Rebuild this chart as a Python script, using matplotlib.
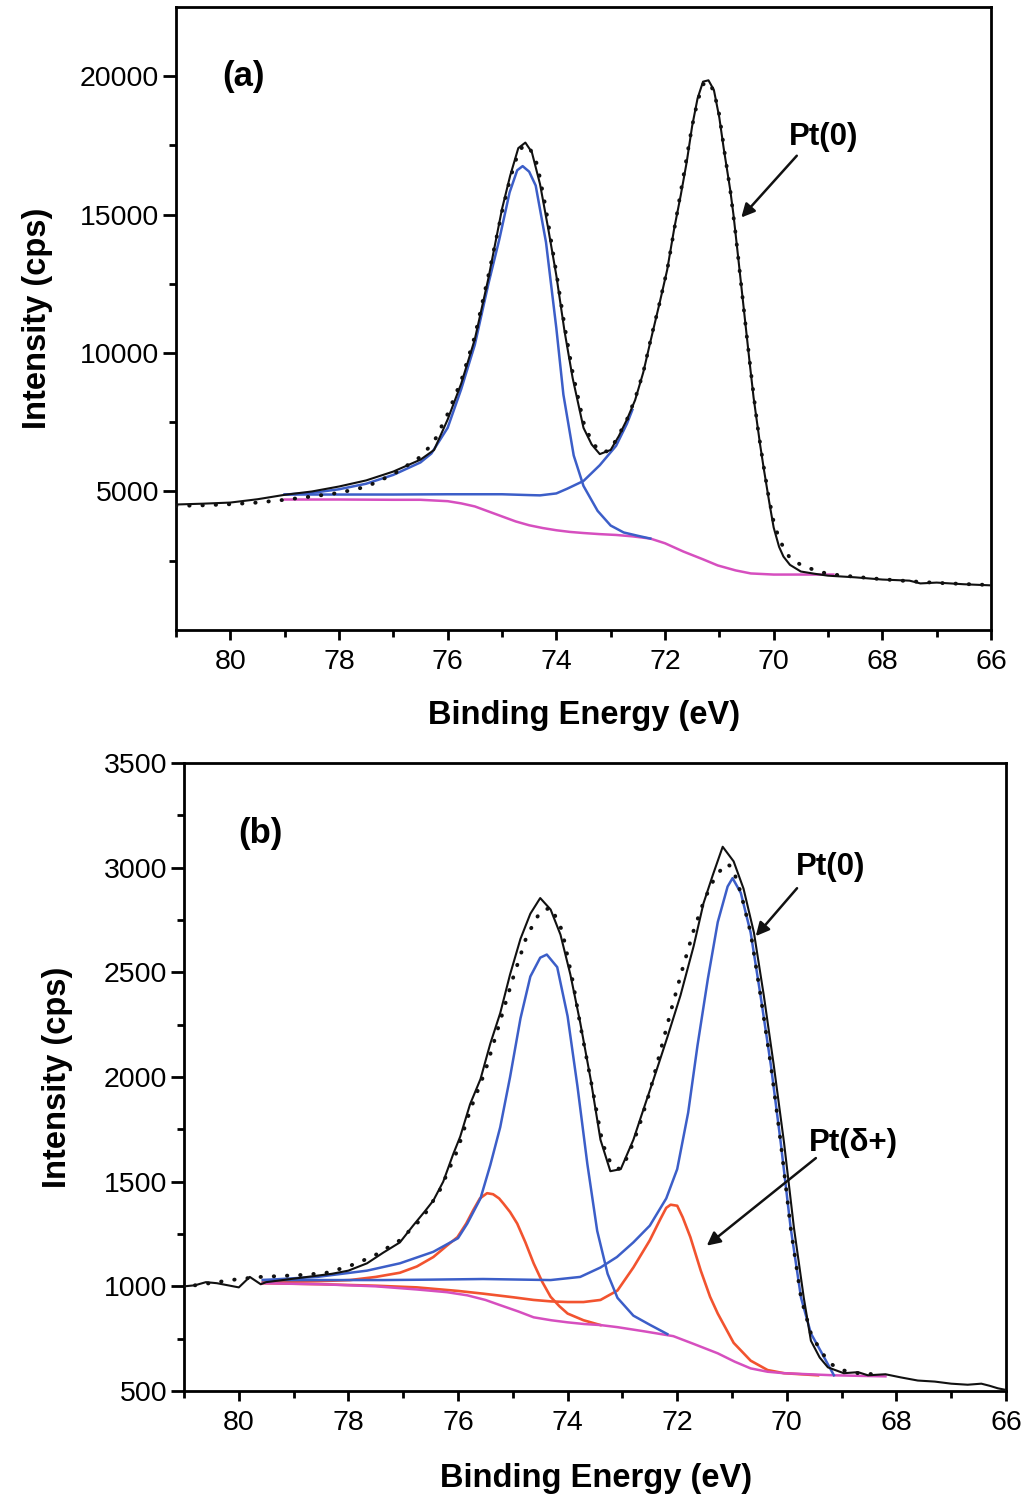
import matplotlib
matplotlib.use('Agg')
import matplotlib.pyplot as plt
from matplotlib.ticker import MultipleLocator, FixedLocator

plt.rcParams['font.family'] = ['Liberation Sans', 'DejaVu Sans']

# ---------------- panel (a) data ----------------
top_meas_x = [81.0, 80.5, 80.0, 79.5, 79.0, 78.5, 78.0, 77.5, 77.0, 76.5, 76.25, 76.0, 75.75, 75.5, 75.25,
              75.0, 74.85, 74.7, 74.57, 74.45, 74.3, 74.15, 74.0, 73.85, 73.7, 73.5, 73.35, 73.2, 73.0, 72.85,
              72.7, 72.55, 72.4, 72.27, 72.1, 71.96, 71.83, 71.71, 71.6, 71.5, 71.4, 71.3, 71.2, 71.1, 71.0,
              70.92, 70.8, 70.74, 70.65, 70.55, 70.45, 70.37, 70.25, 70.18, 70.08, 70.0, 69.9, 69.82, 69.7, 69.5,
              69.25, 69.0, 68.5, 68.0, 67.5, 67.3, 67.0, 66.5, 66.0]
top_meas_y = [4530, 4560, 4600, 4720, 4880, 5000, 5180, 5400, 5720, 6150, 6500, 7600, 8900, 10500, 12700,
              15200, 16400, 17400, 17600, 17250, 16100, 14500, 12800, 10800, 9100, 7300, 6700, 6350, 6500, 7000,
              7600, 8300, 9300, 10400, 11800, 13000, 14500, 15700, 16900, 18200, 19200, 19800, 19850, 19500, 18500,
              17400, 15900, 15000, 13400, 11600, 9800, 8400, 6700, 5800, 4600, 3700, 3000, 2650, 2350, 2110,
              2030, 1960, 1900, 1820, 1780, 1680, 1710, 1650, 1610]

top_fit_x = [81.0, 80.5, 80.0, 79.5, 79.0, 78.5, 78.0, 77.5, 77.0, 76.5, 76.25, 76.0, 75.75, 75.5, 75.25,
             75.0, 74.85, 74.7, 74.6, 74.5, 74.35, 74.2, 74.0, 73.85, 73.7, 73.5, 73.35, 73.2, 73.05, 72.9,
             72.7, 72.55, 72.4, 72.25, 72.1, 71.95, 71.8, 71.65, 71.5, 71.4, 71.3, 71.2, 71.1, 71.0, 70.9,
             70.8, 70.7, 70.6, 70.5, 70.4, 70.3, 70.2, 70.1, 70.0, 69.9, 69.8, 69.7, 69.5, 69.3, 69.0,
             68.5, 68.0, 67.5, 67.0, 66.5, 66.0]
top_fit_y = [4480, 4500, 4540, 4600, 4700, 4820, 4950, 5170, 5620, 6250, 6800, 7800, 9000, 10600, 12800,
             15100, 16300, 17250, 17500, 17450, 16800, 15300, 12900, 11000, 9300, 7500, 6800, 6450, 6450, 6850,
             7600, 8350, 9300, 10600, 11800, 13100, 14800, 16500, 18200, 19100, 19700, 19800, 19450, 18600, 17200,
             15900, 14300, 12500, 10700, 9000, 7400, 6100, 4900, 3900, 3300, 2900, 2600, 2350, 2200, 2020,
             1920, 1830, 1760, 1700, 1660, 1620]

top_p1_x = [79.0, 78.5, 78.0, 77.5, 77.0, 76.5, 76.3, 76.0, 75.75, 75.5, 75.25, 75.05, 74.86, 74.72, 74.62,
            74.5, 74.38, 74.19, 74.0, 73.87, 73.68, 73.5, 73.24, 73.0, 72.76, 72.5, 72.27]
top_p1_y = [4890, 4950, 5080, 5280, 5600, 6050, 6370, 7300, 8700, 10300, 12500, 14100, 15800, 16600, 16750,
            16550, 16050, 14000, 10900, 8500, 6300, 5200, 4300, 3770, 3520, 3400, 3300]

top_p2_x = [79.0, 78.0, 77.0, 76.0, 75.0, 74.5, 74.3, 74.0, 73.8, 73.5, 73.2, 72.9, 72.7, 72.6]
top_p2_y = [4890, 4890, 4890, 4900, 4900, 4870, 4860, 4930, 5100, 5380, 5950, 6650, 7450, 7950]

top_bg_x = [79.0, 78.0, 77.0, 76.5, 76.0, 75.75, 75.5, 75.25, 75.0, 74.75, 74.5, 74.25, 74.0, 73.75,
            73.5, 73.2, 72.9, 72.6, 72.27, 72.0, 71.66, 71.3, 71.03, 70.7, 70.42, 70.0, 69.5, 68.9]
top_bg_y = [4710, 4710, 4700, 4700, 4650, 4570, 4460, 4280, 4100, 3920, 3780, 3680, 3600, 3540,
            3500, 3460, 3430, 3380, 3300, 3130, 2830, 2550, 2330, 2150, 2040, 2000, 2000, 2000]

# ---------------- panel (b) data ----------------
bot_meas_x = [81.0, 80.8, 80.6, 80.4, 80.2, 80.0, 79.8, 79.6, 79.5, 79.2, 78.9, 78.6, 78.3, 78.0, 77.66,
              77.37, 77.06, 76.82, 76.6, 76.45, 76.27, 76.09, 75.96, 75.78, 75.59, 75.41, 75.23, 75.05, 74.86,
              74.68, 74.5, 74.31, 74.13, 73.95, 73.77, 73.58, 73.4, 73.22, 73.03, 72.8, 72.61, 72.43, 72.18,
              71.94, 71.7, 71.52, 71.35, 71.17, 70.97, 70.79, 70.6, 70.42, 70.24, 70.05, 69.87, 69.69, 69.56,
              69.4, 69.25, 68.96, 68.7, 68.52, 68.2, 67.92, 67.61, 67.3, 67.0, 66.7, 66.45, 66.3, 66.15, 66.0]
bot_meas_y = [1000, 1005, 1020, 1015, 1005, 995, 1045, 1010, 1020, 1030, 1040, 1050, 1060, 1075, 1110,
              1160, 1210, 1290, 1360, 1410, 1500, 1630, 1715, 1870, 1990, 2160, 2305, 2490, 2660,
              2780, 2855, 2800, 2680, 2490, 2260, 1990, 1700, 1550, 1560, 1700, 1850, 1990, 2190,
              2390, 2625, 2830, 2965, 3100, 3030, 2900, 2690, 2390, 2060, 1685, 1280, 945, 740,
              660, 613, 585, 590, 575, 580, 565, 550, 545, 535, 530, 535, 525, 513, 505]

bot_fit_x = [80.8, 80.4, 80.0, 79.6, 79.2, 78.8, 78.4, 78.0, 77.55, 77.06, 76.64, 76.33, 76.01, 75.78, 75.5,
             75.25, 75.0, 74.75, 74.5, 74.3, 74.1, 73.9, 73.77, 73.53, 73.36, 73.2, 73.05, 72.9, 72.7, 72.5,
             72.3, 72.1, 71.9, 71.7, 71.5, 71.3, 71.1, 70.99, 70.84, 70.66, 70.48, 70.29, 70.11, 69.93, 69.74,
             69.56, 69.38, 69.2, 69.0, 68.7, 68.4]
bot_fit_y = [1005, 1020, 1035, 1045, 1050, 1055, 1065, 1095, 1143, 1220, 1330, 1460, 1650, 1840, 2030,
             2250, 2470, 2670, 2790, 2810, 2700, 2450, 2250, 1920, 1680, 1580, 1560, 1620, 1760, 1930,
             2130, 2330, 2520, 2700, 2850, 2960, 3020, 3000, 2880, 2690, 2390, 2055, 1685, 1280, 945,
             775, 690, 630, 600, 585, 580]

bot_p1_x = [79.56, 78.57, 77.66, 77.06, 76.45, 76.0, 75.83, 75.59, 75.41, 75.23, 75.05, 74.86, 74.68, 74.5,
            74.38, 74.19, 74.0, 73.82, 73.64, 73.46, 73.27, 73.09, 72.8, 72.49, 72.18]
bot_p1_y = [1030, 1045, 1075, 1110, 1165, 1230, 1300, 1420, 1580, 1760, 2000, 2280, 2480, 2570,
            2585, 2525, 2290, 1955, 1585, 1265, 1060, 945, 860, 815, 772]

bot_p2_x = [79.56, 78.5, 77.37, 76.5, 75.54, 74.8, 74.31, 73.77, 73.4, 73.1, 72.8, 72.5, 72.2, 72.0, 71.8,
            71.63, 71.44, 71.26, 71.08, 70.99, 70.84, 70.66, 70.48, 70.29, 70.11, 69.93, 69.74, 69.56, 69.38, 69.14]
bot_p2_y = [1030, 1030, 1030, 1032, 1035, 1032, 1030, 1045, 1090, 1140, 1210, 1290, 1420, 1560, 1830,
            2150, 2470, 2740, 2910, 2950, 2880, 2690, 2390, 2055, 1685, 1280, 945, 775, 690, 575]

bot_d1_x = [79.56, 78.5, 77.97, 77.5, 77.06, 76.75, 76.45, 76.2, 76.01, 75.85, 75.72, 75.6, 75.47, 75.36,
            75.25, 75.17, 75.05, 74.92, 74.77, 74.62, 74.46, 74.31, 74.15, 74.0, 73.71, 73.4]
bot_d1_y = [1020, 1025, 1030, 1045, 1065, 1095, 1140, 1195, 1235, 1300, 1365, 1420, 1445, 1440,
            1420, 1395, 1355, 1300, 1210, 1110, 1020, 950, 905, 870, 838, 815]

bot_d2_x = [79.56, 78.5, 77.5, 76.75, 76.0, 75.54, 75.0, 74.62, 74.3, 74.0, 73.71, 73.4, 73.09, 72.8, 72.5,
            72.31, 72.2, 72.12, 72.0, 71.9, 71.76, 71.57, 71.4, 71.26, 70.97, 70.66, 70.35, 70.05, 69.43]
bot_d2_y = [1015, 1010, 1003, 995, 978, 965, 948, 935, 928, 925, 925, 935, 980, 1090, 1220,
            1320, 1375, 1390, 1385, 1330, 1235, 1075, 950, 870, 730, 645, 600, 585, 575]

bot_bg_x = [79.56, 78.5, 77.5, 76.75, 76.2, 75.83, 75.5, 75.23, 74.9, 74.62, 74.3, 74.0, 73.7, 73.4, 73.09,
            72.6, 72.07, 71.7, 71.26, 70.95, 70.66, 70.35, 70.05, 69.6, 69.14, 68.6, 68.2]
bot_bg_y = [1015, 1010, 1000, 985, 972, 957, 935, 910, 880, 852, 838, 828, 820, 815, 805,
            785, 762, 725, 680, 640, 608, 592, 585, 580, 575, 572, 570]

x_ticks = [80, 78, 76, 74, 72, 70, 68, 66]
top_yticks = [5000, 10000, 15000, 20000]
bot_yticks = [500, 1000, 1500, 2000, 2500, 3000, 3500]

BLUE = '#3C5EC8'
MAGENTA = '#D64FBF'
RED = '#F2532F'
BLACK = '#111111'

fig = plt.figure(figsize=(10.28, 15.02), dpi=100)
ax1 = fig.add_axes([0.1712, 0.5806, 0.7928, 0.4148])
ax2 = fig.add_axes([0.1790, 0.0739, 0.7996, 0.4181])


def style(ax):
    for s in ax.spines.values():
        s.set_linewidth(2.0)
    ax.tick_params(axis='x', which='major', direction='out', length=7.5, width=2.0, labelsize=20.5, pad=6,
                   top=False)
    ax.tick_params(axis='x', which='minor', direction='out', length=5, width=2.0, top=False)
    ax.tick_params(axis='y', which='major', direction='out', length=9.5, width=2.0, labelsize=20.5, pad=2.5,
                   right=False)
    ax.tick_params(axis='y', which='minor', direction='out', length=5, width=2.0, right=False)
    ax.set_xlim(81, 66)
    ax.xaxis.set_major_locator(FixedLocator(x_ticks))
    ax.xaxis.set_minor_locator(MultipleLocator(1))


def dotted(ax, x, y):
    ax.plot(x, y, color=BLACK, lw=2.8, linestyle=(0, (0.1, 3.3)), dash_capstyle='round', zorder=4)


# ---- panel (a)
style(ax1)
ax1.set_ylim(0, 22500)
ax1.yaxis.set_major_locator(FixedLocator(top_yticks))
ax1.yaxis.set_minor_locator(FixedLocator([2500, 7500, 12500, 17500]))
ax1.plot(top_bg_x, top_bg_y, color=MAGENTA, lw=1.8, zorder=2)
ax1.plot(top_p1_x, top_p1_y, color=BLUE, lw=1.8, zorder=3)
ax1.plot(top_p2_x, top_p2_y, color=BLUE, lw=1.8, zorder=3)
dotted(ax1, top_fit_x, top_fit_y)
ax1.plot(top_meas_x, top_meas_y, color=BLACK, lw=1.5, zorder=5)

ax1.text(79.76, 19980, '(a)', fontsize=25, fontweight='bold', ha='center', va='center')
ax1.text(69.08, 17816, 'Pt(0)', fontsize=22.5, fontweight='bold', ha='center', va='center')
ax1.annotate('', xy=(70.63, 14820), xytext=(69.54, 17200),
             arrowprops=dict(arrowstyle='-|>', color=BLACK, lw=1.8, mutation_scale=20))

ax1.set_xlabel('Binding Energy (eV)', fontsize=23.5, fontweight='bold', va='center')
ax1.xaxis.set_label_coords(0.5006, -0.138)
ax1.set_ylabel('Intensity (cps)', fontsize=23.5, fontweight='bold', va='center')
ax1.yaxis.set_label_coords(-0.170, 0.5)

# ---- panel (b)
style(ax2)
ax2.set_ylim(500, 3500)
ax2.yaxis.set_major_locator(FixedLocator(bot_yticks))
ax2.yaxis.set_minor_locator(MultipleLocator(250))
ax2.plot(bot_d2_x, bot_d2_y, color=RED, lw=1.9, zorder=2)
ax2.plot(bot_d1_x, bot_d1_y, color=RED, lw=1.9, zorder=2)
ax2.plot(bot_bg_x, bot_bg_y, color=MAGENTA, lw=1.8, zorder=2.5)
ax2.plot(bot_p2_x, bot_p2_y, color=BLUE, lw=1.8, zorder=3)
ax2.plot(bot_p1_x, bot_p1_y, color=BLUE, lw=1.8, zorder=3)
dotted(ax2, bot_fit_x, bot_fit_y)
ax2.plot(bot_meas_x, bot_meas_y, color=BLACK, lw=1.5, zorder=5)

ax2.text(79.6, 3165, '(b)', fontsize=25, fontweight='bold', ha='center', va='center')
ax2.text(69.21, 3003, 'Pt(0)', fontsize=22.5, fontweight='bold', ha='center', va='center')
ax2.annotate('', xy=(70.60, 2663), xytext=(69.78, 2912),
             arrowprops=dict(arrowstyle='-|>', color=BLACK, lw=1.8, mutation_scale=20))
ax2.text(68.78, 1684, 'Pt(δ+)', fontsize=22.5, fontweight='bold', ha='center', va='center')
ax2.annotate('', xy=(71.50, 1186), xytext=(69.43, 1621),
             arrowprops=dict(arrowstyle='-|>', color=BLACK, lw=1.8, mutation_scale=20))

ax2.set_xlabel('Binding Energy (eV)', fontsize=23.5, fontweight='bold', va='center')
ax2.xaxis.set_label_coords(0.501, -0.140)
ax2.set_ylabel('Intensity (cps)', fontsize=23.5, fontweight='bold', va='center')
ax2.yaxis.set_label_coords(-0.1545, 0.5)

fig.savefig('out.png', dpi=100)
